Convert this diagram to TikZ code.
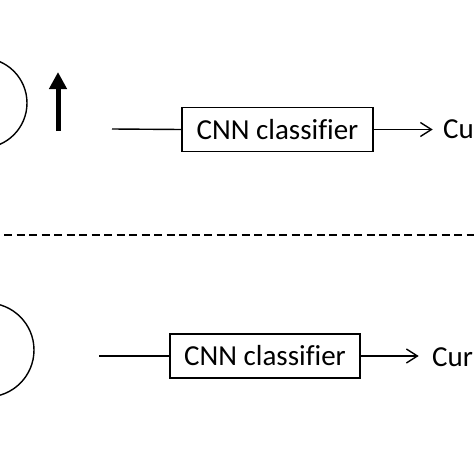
\documentclass[tikz,border=0pt]{standalone}
\usepackage{fontspec}
\setmainfont[Ligatures=NoCommon]{Carlito}
\usetikzlibrary{arrows.meta}
\tikzstyle{classifier box}=[draw, line width=1.4pt, minimum width=191pt, minimum height=44pt, inner sep=0pt, font=\fontsize{29}{33}\selectfont]
\tikzstyle{out text}=[anchor=west, inner sep=0pt, font=\fontsize{29}{33}\selectfont]
\tikzstyle{flow}=[line width=1.4pt]
\tikzstyle{flow arrow}=[line width=1.4pt, -{Straight Barb[length=11pt,width=14pt,line width=1.4pt]}]

\begin{document}
\begin{tikzpicture}[x=1pt, y=-1pt]
  \useasboundingbox (0,0) rectangle (474,474);
  % upper row
  \draw[line width=1.4pt] (-18,103) circle (45);
  \draw[line width=5pt, -{Triangle[length=17pt,width=17pt]}] (58,131) -- (58,72);
  \coordinate (in1) at (112,129);
  \node[classifier box] (cnn1) at (277.5,129.5) {CNN classifier};
  \node[out text] (out1) at (443,129) {Current};
  \draw[flow] (in1) -- (cnn1.west);
  \draw[flow arrow] (cnn1.east) -- ++(59,0) coordinate (tip1);
  % separator
  \coordinate (sepl) at (4,235);
  \coordinate (sepr) at (480,235);
  \draw[line width=2pt, dash pattern=on 8pt off 4.5pt] (sepl) -- (sepr);
  % lower row
  \draw[line width=1.4pt] (-13,350) circle (47);
  \coordinate (in2) at (99,356);
  \node[classifier box, minimum width=190pt] (cnn2) at (265,356) {CNN classifier};
  \node[out text] (out2) at (432,357) {Current};
  \draw[flow] (in2) -- (cnn2.west);
  \draw[flow arrow] (cnn2.east) -- ++(58,0) coordinate (tip2);
\end{tikzpicture}
\end{document}
